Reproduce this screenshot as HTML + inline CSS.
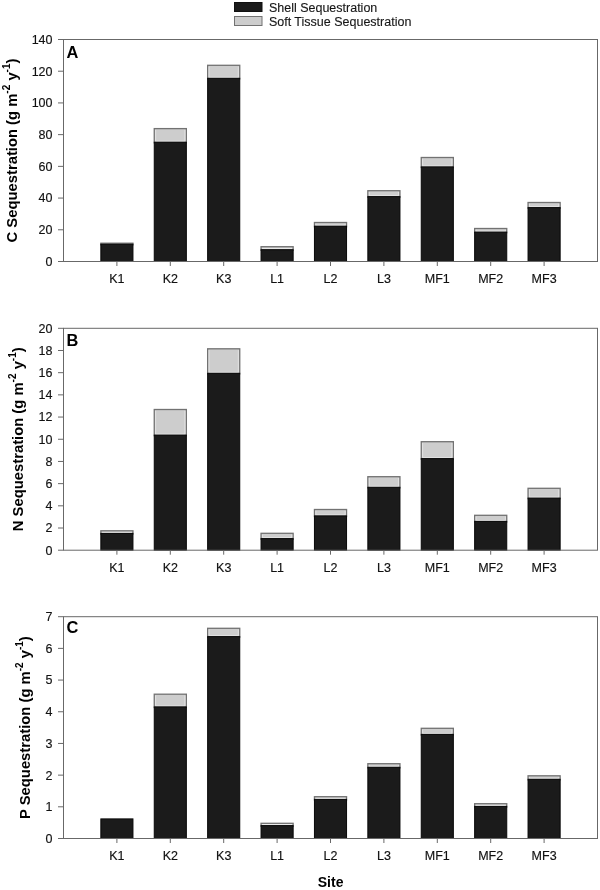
<!DOCTYPE html>
<html><head><meta charset="utf-8"><title>Sequestration</title>
<style>
html,body{margin:0;padding:0;background:#fff;}
svg{display:block;}
.t{font-family:"Liberation Sans",Arial,sans-serif;font-size:12.5px;fill:#111;stroke:#111;stroke-width:0.15px;}
.lg{font-family:"Liberation Sans",Arial,sans-serif;font-size:12.5px;fill:#151515;stroke:#151515;stroke-width:0.12px;}
.L{font-family:"Liberation Sans",Arial,sans-serif;font-size:16.4px;font-weight:bold;fill:#000;}
.yt{font-family:"Liberation Sans",Arial,sans-serif;font-size:14.8px;font-weight:bold;fill:#000;}
.sup{font-size:10px;}
.xt{font-family:"Liberation Sans",Arial,sans-serif;font-size:14px;font-weight:bold;fill:#000;}
</style></head>
<body>
<svg width="600" height="890" viewBox="0 0 600 890">
<rect width="600" height="890" fill="#fff"/>
<rect x="100.85" y="243.20" width="32.10" height="1.60" fill="#cdcdcd" stroke="#727272" stroke-width="1.3"/>
<rect x="100.85" y="244.20" width="32.10" height="17.30" fill="#1b1b1b" stroke="#080808" stroke-width="1"/>
<rect x="154.25" y="128.60" width="32.10" height="14.20" fill="#cdcdcd" stroke="#727272" stroke-width="1.3"/>
<path d="M155.65,129.90 V141.20 H184.95 V129.90" fill="none" stroke="#e4e4e4" stroke-width="0.9"/>
<rect x="154.25" y="142.20" width="32.10" height="119.30" fill="#1b1b1b" stroke="#080808" stroke-width="1"/>
<rect x="207.65" y="65.30" width="32.10" height="13.60" fill="#cdcdcd" stroke="#727272" stroke-width="1.3"/>
<path d="M209.05,66.60 V77.30 H238.35 V66.60" fill="none" stroke="#e4e4e4" stroke-width="0.9"/>
<rect x="207.65" y="78.30" width="32.10" height="183.20" fill="#1b1b1b" stroke="#080808" stroke-width="1"/>
<rect x="261.05" y="246.70" width="32.10" height="3.60" fill="#cdcdcd" stroke="#727272" stroke-width="1.3"/>
<line x1="262.05" y1="248.70" x2="292.15" y2="248.70" stroke="#f2f2f2" stroke-width="0.9"/>
<rect x="261.05" y="249.70" width="32.10" height="11.80" fill="#1b1b1b" stroke="#080808" stroke-width="1"/>
<rect x="314.45" y="222.50" width="32.10" height="4.30" fill="#cdcdcd" stroke="#727272" stroke-width="1.3"/>
<path d="M315.85,223.80 V225.20 H345.15 V223.80" fill="none" stroke="#e4e4e4" stroke-width="0.9"/>
<rect x="314.45" y="226.20" width="32.10" height="35.30" fill="#1b1b1b" stroke="#080808" stroke-width="1"/>
<rect x="367.85" y="190.70" width="32.10" height="6.50" fill="#cdcdcd" stroke="#727272" stroke-width="1.3"/>
<path d="M369.25,192.00 V195.60 H398.55 V192.00" fill="none" stroke="#e4e4e4" stroke-width="0.9"/>
<rect x="367.85" y="196.60" width="32.10" height="64.90" fill="#1b1b1b" stroke="#080808" stroke-width="1"/>
<rect x="421.25" y="157.50" width="32.10" height="10.00" fill="#cdcdcd" stroke="#727272" stroke-width="1.3"/>
<path d="M422.65,158.80 V165.90 H451.95 V158.80" fill="none" stroke="#e4e4e4" stroke-width="0.9"/>
<rect x="421.25" y="166.90" width="32.10" height="94.60" fill="#1b1b1b" stroke="#080808" stroke-width="1"/>
<rect x="474.65" y="228.50" width="32.10" height="4.20" fill="#cdcdcd" stroke="#727272" stroke-width="1.3"/>
<path d="M476.05,229.80 V231.10 H505.35 V229.80" fill="none" stroke="#e4e4e4" stroke-width="0.9"/>
<rect x="474.65" y="232.10" width="32.10" height="29.40" fill="#1b1b1b" stroke="#080808" stroke-width="1"/>
<rect x="528.05" y="202.50" width="32.10" height="5.70" fill="#cdcdcd" stroke="#727272" stroke-width="1.3"/>
<path d="M529.45,203.80 V206.60 H558.75 V203.80" fill="none" stroke="#e4e4e4" stroke-width="0.9"/>
<rect x="528.05" y="207.60" width="32.10" height="53.90" fill="#1b1b1b" stroke="#080808" stroke-width="1"/>
<rect x="63.5" y="39.5" width="534.0" height="222.00" fill="none" stroke="#686868" stroke-width="1"/>
<line x1="58" y1="261.50" x2="63.5" y2="261.50" stroke="#686868" stroke-width="1"/>
<text x="52.5" y="265.90" text-anchor="end" class="t">0</text>
<line x1="58" y1="229.79" x2="63.5" y2="229.79" stroke="#686868" stroke-width="1"/>
<text x="52.5" y="234.19" text-anchor="end" class="t">20</text>
<line x1="58" y1="198.07" x2="63.5" y2="198.07" stroke="#686868" stroke-width="1"/>
<text x="52.5" y="202.47" text-anchor="end" class="t">40</text>
<line x1="58" y1="166.36" x2="63.5" y2="166.36" stroke="#686868" stroke-width="1"/>
<text x="52.5" y="170.76" text-anchor="end" class="t">60</text>
<line x1="58" y1="134.64" x2="63.5" y2="134.64" stroke="#686868" stroke-width="1"/>
<text x="52.5" y="139.04" text-anchor="end" class="t">80</text>
<line x1="58" y1="102.93" x2="63.5" y2="102.93" stroke="#686868" stroke-width="1"/>
<text x="52.5" y="107.33" text-anchor="end" class="t">100</text>
<line x1="58" y1="71.21" x2="63.5" y2="71.21" stroke="#686868" stroke-width="1"/>
<text x="52.5" y="75.61" text-anchor="end" class="t">120</text>
<line x1="58" y1="39.50" x2="63.5" y2="39.50" stroke="#686868" stroke-width="1"/>
<text x="52.5" y="43.90" text-anchor="end" class="t">140</text>
<line x1="116.90" y1="261.5" x2="116.90" y2="266.00" stroke="#686868" stroke-width="1"/>
<text x="116.90" y="283.00" text-anchor="middle" class="t">K1</text>
<line x1="170.30" y1="261.5" x2="170.30" y2="266.00" stroke="#686868" stroke-width="1"/>
<text x="170.30" y="283.00" text-anchor="middle" class="t">K2</text>
<line x1="223.70" y1="261.5" x2="223.70" y2="266.00" stroke="#686868" stroke-width="1"/>
<text x="223.70" y="283.00" text-anchor="middle" class="t">K3</text>
<line x1="277.10" y1="261.5" x2="277.10" y2="266.00" stroke="#686868" stroke-width="1"/>
<text x="277.10" y="283.00" text-anchor="middle" class="t">L1</text>
<line x1="330.50" y1="261.5" x2="330.50" y2="266.00" stroke="#686868" stroke-width="1"/>
<text x="330.50" y="283.00" text-anchor="middle" class="t">L2</text>
<line x1="383.90" y1="261.5" x2="383.90" y2="266.00" stroke="#686868" stroke-width="1"/>
<text x="383.90" y="283.00" text-anchor="middle" class="t">L3</text>
<line x1="437.30" y1="261.5" x2="437.30" y2="266.00" stroke="#686868" stroke-width="1"/>
<text x="437.30" y="283.00" text-anchor="middle" class="t">MF1</text>
<line x1="490.70" y1="261.5" x2="490.70" y2="266.00" stroke="#686868" stroke-width="1"/>
<text x="490.70" y="283.00" text-anchor="middle" class="t">MF2</text>
<line x1="544.10" y1="261.5" x2="544.10" y2="266.00" stroke="#686868" stroke-width="1"/>
<text x="544.10" y="283.00" text-anchor="middle" class="t">MF3</text>
<text x="66.6" y="57.70" class="L">A</text>
<text transform="translate(16.5,150.50) rotate(-90)" text-anchor="middle" class="yt">C Sequestration (g m<tspan class="sup" dy="-7">-2</tspan><tspan dy="7"> y</tspan><tspan class="sup" dy="-7">-1</tspan><tspan dy="7">)</tspan></text>
<rect x="100.85" y="530.80" width="32.10" height="3.20" fill="#cdcdcd" stroke="#727272" stroke-width="1.3"/>
<line x1="101.85" y1="532.40" x2="131.95" y2="532.40" stroke="#f2f2f2" stroke-width="0.9"/>
<rect x="100.85" y="533.40" width="32.10" height="16.80" fill="#1b1b1b" stroke="#080808" stroke-width="1"/>
<rect x="154.25" y="409.50" width="32.10" height="26.20" fill="#cdcdcd" stroke="#727272" stroke-width="1.3"/>
<path d="M155.65,410.80 V434.10 H184.95 V410.80" fill="none" stroke="#e4e4e4" stroke-width="0.9"/>
<rect x="154.25" y="435.10" width="32.10" height="115.10" fill="#1b1b1b" stroke="#080808" stroke-width="1"/>
<rect x="207.65" y="348.80" width="32.10" height="25.10" fill="#cdcdcd" stroke="#727272" stroke-width="1.3"/>
<path d="M209.05,350.10 V372.30 H238.35 V350.10" fill="none" stroke="#e4e4e4" stroke-width="0.9"/>
<rect x="207.65" y="373.30" width="32.10" height="176.90" fill="#1b1b1b" stroke="#080808" stroke-width="1"/>
<rect x="261.05" y="533.30" width="32.10" height="5.90" fill="#cdcdcd" stroke="#727272" stroke-width="1.3"/>
<path d="M262.45,534.60 V537.60 H291.75 V534.60" fill="none" stroke="#e4e4e4" stroke-width="0.9"/>
<rect x="261.05" y="538.60" width="32.10" height="11.60" fill="#1b1b1b" stroke="#080808" stroke-width="1"/>
<rect x="314.45" y="509.50" width="32.10" height="7.00" fill="#cdcdcd" stroke="#727272" stroke-width="1.3"/>
<path d="M315.85,510.80 V514.90 H345.15 V510.80" fill="none" stroke="#e4e4e4" stroke-width="0.9"/>
<rect x="314.45" y="515.90" width="32.10" height="34.30" fill="#1b1b1b" stroke="#080808" stroke-width="1"/>
<rect x="367.85" y="476.70" width="32.10" height="11.20" fill="#cdcdcd" stroke="#727272" stroke-width="1.3"/>
<path d="M369.25,478.00 V486.30 H398.55 V478.00" fill="none" stroke="#e4e4e4" stroke-width="0.9"/>
<rect x="367.85" y="487.30" width="32.10" height="62.90" fill="#1b1b1b" stroke="#080808" stroke-width="1"/>
<rect x="421.25" y="441.70" width="32.10" height="17.50" fill="#cdcdcd" stroke="#727272" stroke-width="1.3"/>
<path d="M422.65,443.00 V457.60 H451.95 V443.00" fill="none" stroke="#e4e4e4" stroke-width="0.9"/>
<rect x="421.25" y="458.60" width="32.10" height="91.60" fill="#1b1b1b" stroke="#080808" stroke-width="1"/>
<rect x="474.65" y="515.30" width="32.10" height="6.70" fill="#cdcdcd" stroke="#727272" stroke-width="1.3"/>
<path d="M476.05,516.60 V520.40 H505.35 V516.60" fill="none" stroke="#e4e4e4" stroke-width="0.9"/>
<rect x="474.65" y="521.40" width="32.10" height="28.80" fill="#1b1b1b" stroke="#080808" stroke-width="1"/>
<rect x="528.05" y="488.30" width="32.10" height="10.40" fill="#cdcdcd" stroke="#727272" stroke-width="1.3"/>
<path d="M529.45,489.60 V497.10 H558.75 V489.60" fill="none" stroke="#e4e4e4" stroke-width="0.9"/>
<rect x="528.05" y="498.10" width="32.10" height="52.10" fill="#1b1b1b" stroke="#080808" stroke-width="1"/>
<rect x="63.5" y="328.3" width="534.0" height="221.90" fill="none" stroke="#686868" stroke-width="1"/>
<line x1="58" y1="550.20" x2="63.5" y2="550.20" stroke="#686868" stroke-width="1"/>
<text x="52.5" y="554.60" text-anchor="end" class="t">0</text>
<line x1="58" y1="528.01" x2="63.5" y2="528.01" stroke="#686868" stroke-width="1"/>
<text x="52.5" y="532.41" text-anchor="end" class="t">2</text>
<line x1="58" y1="505.82" x2="63.5" y2="505.82" stroke="#686868" stroke-width="1"/>
<text x="52.5" y="510.22" text-anchor="end" class="t">4</text>
<line x1="58" y1="483.63" x2="63.5" y2="483.63" stroke="#686868" stroke-width="1"/>
<text x="52.5" y="488.03" text-anchor="end" class="t">6</text>
<line x1="58" y1="461.44" x2="63.5" y2="461.44" stroke="#686868" stroke-width="1"/>
<text x="52.5" y="465.84" text-anchor="end" class="t">8</text>
<line x1="58" y1="439.25" x2="63.5" y2="439.25" stroke="#686868" stroke-width="1"/>
<text x="52.5" y="443.65" text-anchor="end" class="t">10</text>
<line x1="58" y1="417.06" x2="63.5" y2="417.06" stroke="#686868" stroke-width="1"/>
<text x="52.5" y="421.46" text-anchor="end" class="t">12</text>
<line x1="58" y1="394.87" x2="63.5" y2="394.87" stroke="#686868" stroke-width="1"/>
<text x="52.5" y="399.27" text-anchor="end" class="t">14</text>
<line x1="58" y1="372.68" x2="63.5" y2="372.68" stroke="#686868" stroke-width="1"/>
<text x="52.5" y="377.08" text-anchor="end" class="t">16</text>
<line x1="58" y1="350.49" x2="63.5" y2="350.49" stroke="#686868" stroke-width="1"/>
<text x="52.5" y="354.89" text-anchor="end" class="t">18</text>
<line x1="58" y1="328.30" x2="63.5" y2="328.30" stroke="#686868" stroke-width="1"/>
<text x="52.5" y="332.70" text-anchor="end" class="t">20</text>
<line x1="116.90" y1="550.2" x2="116.90" y2="554.70" stroke="#686868" stroke-width="1"/>
<text x="116.90" y="571.70" text-anchor="middle" class="t">K1</text>
<line x1="170.30" y1="550.2" x2="170.30" y2="554.70" stroke="#686868" stroke-width="1"/>
<text x="170.30" y="571.70" text-anchor="middle" class="t">K2</text>
<line x1="223.70" y1="550.2" x2="223.70" y2="554.70" stroke="#686868" stroke-width="1"/>
<text x="223.70" y="571.70" text-anchor="middle" class="t">K3</text>
<line x1="277.10" y1="550.2" x2="277.10" y2="554.70" stroke="#686868" stroke-width="1"/>
<text x="277.10" y="571.70" text-anchor="middle" class="t">L1</text>
<line x1="330.50" y1="550.2" x2="330.50" y2="554.70" stroke="#686868" stroke-width="1"/>
<text x="330.50" y="571.70" text-anchor="middle" class="t">L2</text>
<line x1="383.90" y1="550.2" x2="383.90" y2="554.70" stroke="#686868" stroke-width="1"/>
<text x="383.90" y="571.70" text-anchor="middle" class="t">L3</text>
<line x1="437.30" y1="550.2" x2="437.30" y2="554.70" stroke="#686868" stroke-width="1"/>
<text x="437.30" y="571.70" text-anchor="middle" class="t">MF1</text>
<line x1="490.70" y1="550.2" x2="490.70" y2="554.70" stroke="#686868" stroke-width="1"/>
<text x="490.70" y="571.70" text-anchor="middle" class="t">MF2</text>
<line x1="544.10" y1="550.2" x2="544.10" y2="554.70" stroke="#686868" stroke-width="1"/>
<text x="544.10" y="571.70" text-anchor="middle" class="t">MF3</text>
<text x="66.6" y="346.00" class="L">B</text>
<text transform="translate(23.3,439.25) rotate(-90)" text-anchor="middle" class="yt">N Sequestration (g m<tspan class="sup" dy="-7">-2</tspan><tspan dy="7"> y</tspan><tspan class="sup" dy="-7">-1</tspan><tspan dy="7">)</tspan></text>
<rect x="100.85" y="818.90" width="32.10" height="19.60" fill="#1b1b1b" stroke="#080808" stroke-width="1"/>
<rect x="154.25" y="694.20" width="32.10" height="13.30" fill="#cdcdcd" stroke="#727272" stroke-width="1.3"/>
<path d="M155.65,695.50 V705.90 H184.95 V695.50" fill="none" stroke="#e4e4e4" stroke-width="0.9"/>
<rect x="154.25" y="706.90" width="32.10" height="131.60" fill="#1b1b1b" stroke="#080808" stroke-width="1"/>
<rect x="207.65" y="628.30" width="32.10" height="8.90" fill="#cdcdcd" stroke="#727272" stroke-width="1.3"/>
<path d="M209.05,629.60 V635.60 H238.35 V629.60" fill="none" stroke="#e4e4e4" stroke-width="0.9"/>
<rect x="207.65" y="636.60" width="32.10" height="201.90" fill="#1b1b1b" stroke="#080808" stroke-width="1"/>
<rect x="261.05" y="823.30" width="32.10" height="2.90" fill="#cdcdcd" stroke="#727272" stroke-width="1.3"/>
<line x1="262.05" y1="824.60" x2="292.15" y2="824.60" stroke="#f2f2f2" stroke-width="0.9"/>
<rect x="261.05" y="825.60" width="32.10" height="12.90" fill="#1b1b1b" stroke="#080808" stroke-width="1"/>
<rect x="314.45" y="796.70" width="32.10" height="3.30" fill="#cdcdcd" stroke="#727272" stroke-width="1.3"/>
<line x1="315.45" y1="798.40" x2="345.55" y2="798.40" stroke="#f2f2f2" stroke-width="0.9"/>
<rect x="314.45" y="799.40" width="32.10" height="39.10" fill="#1b1b1b" stroke="#080808" stroke-width="1"/>
<rect x="367.85" y="763.70" width="32.10" height="4.20" fill="#cdcdcd" stroke="#727272" stroke-width="1.3"/>
<path d="M369.25,765.00 V766.30 H398.55 V765.00" fill="none" stroke="#e4e4e4" stroke-width="0.9"/>
<rect x="367.85" y="767.30" width="32.10" height="71.20" fill="#1b1b1b" stroke="#080808" stroke-width="1"/>
<rect x="421.25" y="728.30" width="32.10" height="6.70" fill="#cdcdcd" stroke="#727272" stroke-width="1.3"/>
<path d="M422.65,729.60 V733.40 H451.95 V729.60" fill="none" stroke="#e4e4e4" stroke-width="0.9"/>
<rect x="421.25" y="734.40" width="32.10" height="104.10" fill="#1b1b1b" stroke="#080808" stroke-width="1"/>
<rect x="474.65" y="803.70" width="32.10" height="3.30" fill="#cdcdcd" stroke="#727272" stroke-width="1.3"/>
<line x1="475.65" y1="805.40" x2="505.75" y2="805.40" stroke="#f2f2f2" stroke-width="0.9"/>
<rect x="474.65" y="806.40" width="32.10" height="32.10" fill="#1b1b1b" stroke="#080808" stroke-width="1"/>
<rect x="528.05" y="775.80" width="32.10" height="4.10" fill="#cdcdcd" stroke="#727272" stroke-width="1.3"/>
<path d="M529.45,777.10 V778.30 H558.75 V777.10" fill="none" stroke="#e4e4e4" stroke-width="0.9"/>
<rect x="528.05" y="779.30" width="32.10" height="59.20" fill="#1b1b1b" stroke="#080808" stroke-width="1"/>
<rect x="63.5" y="616.7" width="534.0" height="221.80" fill="none" stroke="#686868" stroke-width="1"/>
<line x1="58" y1="838.50" x2="63.5" y2="838.50" stroke="#686868" stroke-width="1"/>
<text x="52.5" y="842.90" text-anchor="end" class="t">0</text>
<line x1="58" y1="806.81" x2="63.5" y2="806.81" stroke="#686868" stroke-width="1"/>
<text x="52.5" y="811.21" text-anchor="end" class="t">1</text>
<line x1="58" y1="775.13" x2="63.5" y2="775.13" stroke="#686868" stroke-width="1"/>
<text x="52.5" y="779.53" text-anchor="end" class="t">2</text>
<line x1="58" y1="743.44" x2="63.5" y2="743.44" stroke="#686868" stroke-width="1"/>
<text x="52.5" y="747.84" text-anchor="end" class="t">3</text>
<line x1="58" y1="711.76" x2="63.5" y2="711.76" stroke="#686868" stroke-width="1"/>
<text x="52.5" y="716.16" text-anchor="end" class="t">4</text>
<line x1="58" y1="680.07" x2="63.5" y2="680.07" stroke="#686868" stroke-width="1"/>
<text x="52.5" y="684.47" text-anchor="end" class="t">5</text>
<line x1="58" y1="648.39" x2="63.5" y2="648.39" stroke="#686868" stroke-width="1"/>
<text x="52.5" y="652.79" text-anchor="end" class="t">6</text>
<line x1="58" y1="616.70" x2="63.5" y2="616.70" stroke="#686868" stroke-width="1"/>
<text x="52.5" y="621.10" text-anchor="end" class="t">7</text>
<line x1="116.90" y1="838.5" x2="116.90" y2="843.00" stroke="#686868" stroke-width="1"/>
<text x="116.90" y="860.00" text-anchor="middle" class="t">K1</text>
<line x1="170.30" y1="838.5" x2="170.30" y2="843.00" stroke="#686868" stroke-width="1"/>
<text x="170.30" y="860.00" text-anchor="middle" class="t">K2</text>
<line x1="223.70" y1="838.5" x2="223.70" y2="843.00" stroke="#686868" stroke-width="1"/>
<text x="223.70" y="860.00" text-anchor="middle" class="t">K3</text>
<line x1="277.10" y1="838.5" x2="277.10" y2="843.00" stroke="#686868" stroke-width="1"/>
<text x="277.10" y="860.00" text-anchor="middle" class="t">L1</text>
<line x1="330.50" y1="838.5" x2="330.50" y2="843.00" stroke="#686868" stroke-width="1"/>
<text x="330.50" y="860.00" text-anchor="middle" class="t">L2</text>
<line x1="383.90" y1="838.5" x2="383.90" y2="843.00" stroke="#686868" stroke-width="1"/>
<text x="383.90" y="860.00" text-anchor="middle" class="t">L3</text>
<line x1="437.30" y1="838.5" x2="437.30" y2="843.00" stroke="#686868" stroke-width="1"/>
<text x="437.30" y="860.00" text-anchor="middle" class="t">MF1</text>
<line x1="490.70" y1="838.5" x2="490.70" y2="843.00" stroke="#686868" stroke-width="1"/>
<text x="490.70" y="860.00" text-anchor="middle" class="t">MF2</text>
<line x1="544.10" y1="838.5" x2="544.10" y2="843.00" stroke="#686868" stroke-width="1"/>
<text x="544.10" y="860.00" text-anchor="middle" class="t">MF3</text>
<text x="66.6" y="633.10" class="L">C</text>
<text transform="translate(30.2,727.60) rotate(-90)" text-anchor="middle" class="yt">P Sequestration (g m<tspan class="sup" dy="-7">-2</tspan><tspan dy="7"> y</tspan><tspan class="sup" dy="-7">-1</tspan><tspan dy="7">)</tspan></text>
<rect x="234.5" y="2.5" width="27.5" height="9" fill="#1b1b1b" stroke="#111" stroke-width="1"/>
<rect x="234.5" y="16.5" width="27.5" height="9" fill="#cdcdcd" stroke="#727272" stroke-width="1"/>
<text x="268.9" y="11.7" class="lg">Shell Sequestration</text>
<text x="268.9" y="25.7" class="lg">Soft Tissue Sequestration</text>
<text x="330.6" y="887" text-anchor="middle" class="xt">Site</text>
</svg>
</body></html>
